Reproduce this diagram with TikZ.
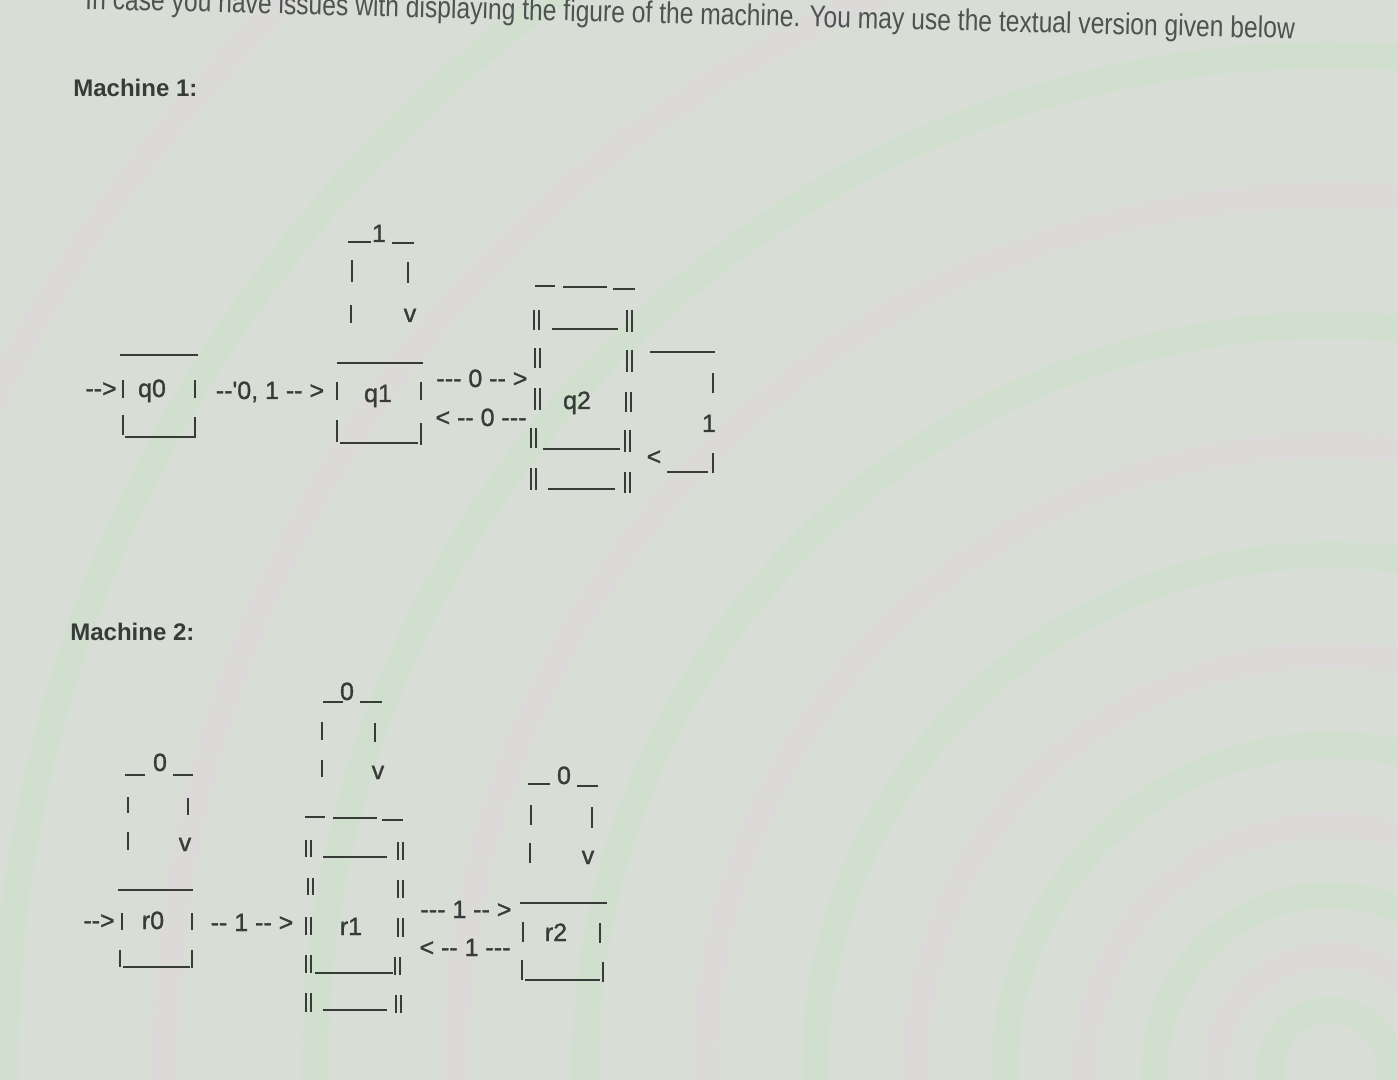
\documentclass[tikz,border=0pt]{standalone}
\usepackage{graphicx}
\usepackage{fontspec}
\setmainfont{Liberation Sans}
\newfontfamily\medfont{Liberation Sans}[FakeBold=1.2]
\definecolor{ink}{RGB}{55,60,56}
\definecolor{hdr}{RGB}{78,82,80}
\definecolor{bg}{RGB}{216,221,213}
\definecolor{bgG}{RGB}{196,230,196}
\definecolor{bgP}{RGB}{232,214,228}
\newcommand\HY{\mbox{-}}
\newcommand\myV[3]{\draw[bar] (#1,#2) -- (#1,#3);}
\newcommand\myVV[3]{\draw[dbar] (#1-2.5,#2) -- (#1-2.5,#3); \draw[dbar] (#1+2.5,#2) -- (#1+2.5,#3);}
\newcommand\myH[3]{\draw[bar] (#1,#3) -- (#2,#3);}
\begin{document}
\begin{tikzpicture}[x=0.5pt,y=-0.5pt,
  bar/.style={ink,line width=1.3pt},
  dbar/.style={ink,line width=1pt},
  t/.style={ink,font=\medfont\fontsize{12.5}{14}\selectfont,anchor=base,inner sep=0pt},
  head/.style={ink,font=\fontsize{12}{14}\selectfont\bfseries,anchor=base west,inner sep=0pt}]
\useasboundingbox (0,0) rectangle (1398,1080);
\fill[bg] (0,0) rectangle (1398,1080);
\begin{scope}
\clip (0,0) rectangle (1398,1080);
\foreach \r/\c in {60/bgG,115/bgP,175/bgG,245/bgP,325/bgG,415/bgP,515/bgG,625/bgP,745/bgG,875/bgP,1015/bgG,1165/bgP,1325/bgG,1495/bgP}
  \draw[\c,line width=13pt,opacity=0.3] (1330,1070) circle[radius=\r*0.5pt];
\end{scope}
% header
\node[hdr,anchor=base,inner sep=0pt,rotate=-1.4] (hd) at (690,24)
  {\resizebox{605pt}{\height}{\fontsize{15}{17}\selectfont In case you have issues with displaying the figure of the machine. You may use the textual version given below}};
% ---------------- Machine 1
\node[head] (m1) at (73,97) {Machine 1:};
% loop on q1
\myH{348}{371}{242}
\node[t] (l1) at (379,242) {1};
\myH{392}{414}{243}
\myV{352}{260}{282}
\myV{408}{262}{283}
\myV{351}{305}{323}
\node[t] (v1) at (410,322) {v};
% q0
\myH{120}{198}{355}
\node[t,anchor=base west] (s0) at (85,397) {\HY\HY>};
\myV{123}{380}{398}
\node[t] (q0) at (152,397) {q0};
\myV{195}{380}{398}
\myV{123}{415}{435}
\myH{125}{195}{437}
\myV{195}{417}{438}
\node[t] (e01) at (270,399) {\HY\HY'0, 1 \HY\HY\ >};
% q1
\myH{337}{423}{363}
\myV{337}{382}{400}
\node[t] (q1) at (378,402) {q1};
\myV{421}{382}{400}
\myV{337}{420}{442}
\myH{340}{418}{443}
\myV{421}{423}{445}
\node[t] (e12) at (482,387) {\HY\HY\HY\ 0 \HY\HY\ >};
\node[t] (e21) at (481,426) {< \HY\HY\ 0 \HY\HY\HY};
% q2
\myH{535}{555}{286} \myH{563}{607}{287} \myH{613}{635}{289}
\myVV{536}{310}{330} \myH{552}{618}{329} \myVV{629}{310}{332}
\myVV{537}{348}{368} \myVV{629}{350}{372}
\myH{650}{715}{352}
\myV{713}{373}{393}
\myVV{537}{388}{410}
\node[t] (q2) at (577,409) {q2};
\myVV{628}{392}{412}
\node[t] (l2) at (709,432) {1};
\myVV{533}{428}{448} \myH{543}{620}{449} \myVV{627}{430}{452}
\node[t] (a2) at (654,465) {<};
\myH{667}{708}{472} \myV{713}{453}{473}
\myVV{533}{468}{490} \myH{548}{615}{489} \myVV{627}{472}{493}
% ---------------- Machine 2
\node[head] (m2) at (70,640) {Machine 2:};
% loop r0
\myH{125}{145}{775}
\node[t] (l3) at (160,771) {0};
\myH{173}{193}{775}
\myV{128}{797}{813} \myV{188}{798}{815}
\myV{128}{832}{850}
\node[t] (v3) at (185,851) {v};
% r0
\myH{118}{193}{890}
\node[t,anchor=base west] (s1) at (83,929) {\HY\HY>};
\myV{122}{913}{930}
\node[t] (r0) at (153,929) {r0};
\myV{192}{913}{930}
\myV{120}{950}{967} \myH{123}{190}{967} \myV{192}{950}{968}
\node[t] (f01) at (252,931) {\HY\HY\ 1 \HY\HY\ >};
% loop r1
\myH{323}{343}{702}
\node[t] (l4) at (347,700) {0};
\myH{360}{382}{702}
\myV{322}{722}{740} \myV{375}{723}{742}
\myV{322}{760}{777}
\node[t] (v4) at (378,779) {v};
% r1
\myH{305}{325}{817} \myH{333}{377}{818} \myH{382}{403}{820}
\myVV{308}{840}{857} \myH{323}{387}{857} \myVV{400}{842}{860}
\myVV{310}{878}{895} \myVV{400}{880}{898}
\myVV{308}{917}{935}
\node[t] (r1) at (351,935) {r1};
\myVV{400}{918}{937}
\myVV{308}{955}{973} \myH{315}{393}{973} \myVV{397}{957}{975}
\myVV{308}{993}{1012} \myH{323}{387}{1010} \myVV{398}{995}{1013}
\node[t] (f12) at (466,918) {\HY\HY\HY\ 1 \HY\HY\ >};
\node[t] (f21) at (465,956) {< \HY\HY\ 1 \HY\HY\HY};
% loop r2
\myH{528}{550}{784}
\node[t] (l5) at (564,784) {0};
\myH{577}{598}{786}
\myV{531}{805}{825} \myV{592}{807}{828}
\myV{530}{843}{863}
\node[t] (v5) at (588,864) {v};
% r2
\myH{520}{607}{903}
\myV{523}{922}{942}
\node[t] (r2) at (556,941) {r2};
\myV{600}{923}{943}
\myV{522}{960}{980} \myH{525}{600}{980} \myV{603}{962}{982}
\end{tikzpicture}
\end{document}
